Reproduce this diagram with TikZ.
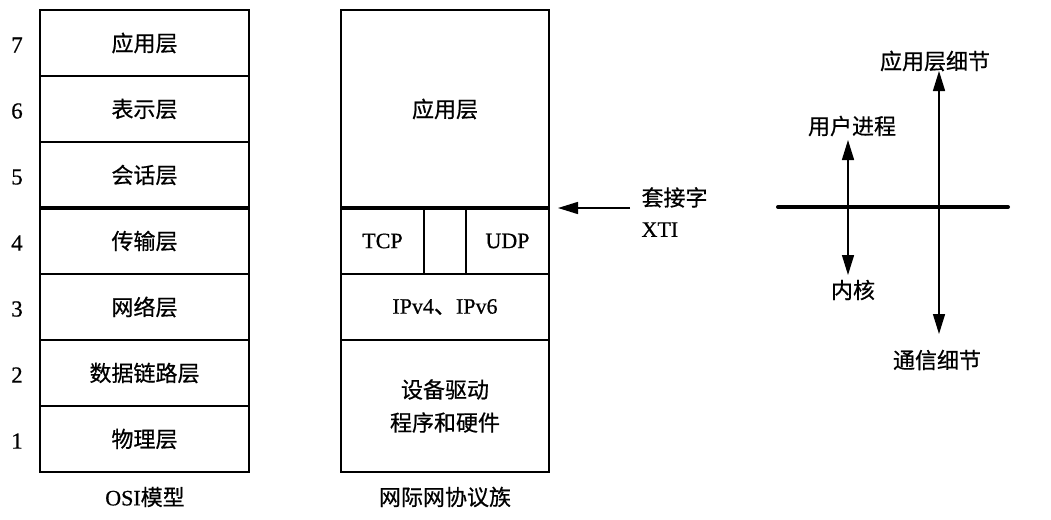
\documentclass[tikz,border=0pt]{standalone}
\usepackage{fontspec}
\setmainfont{Liberation Serif}[UprightFeatures={FakeBold=0.6}]
\newfontfamily\cjk{Noto Sans CJK SC}[UprightFeatures={FakeBold=0.6}]
\usetikzlibrary{arrows.meta}
\begin{document}
\begin{tikzpicture}[x=1pt,y=-1pt,
  cell/.style={draw, line width=1.2pt, inner sep=0pt, outer sep=0pt, align=center,
     font=\fontsize{22}{26}\selectfont\cjk},
  lat/.style={font=\fontsize{22}{26}\selectfont},
  num/.style={font=\fontsize{23}{26}\selectfont},
  lbl/.style={font=\fontsize{22}{26}\selectfont\cjk},
  thick line/.style={line width=4pt},
  tip/.tip={Triangle[length=20pt,width=12pt]},
  arr/.style={line width=1.5pt, -tip},
  darr/.style={line width=1.5pt, tip-tip}
]
\useasboundingbox (0,0) rectangle (1051,519);
% OSI model
\foreach \i/\t/\y in {7/应用层/43, 6/表示层/109, 5/会话层/175, 4/传输层/241, 3/网络层/307, 2/数据链路层/373, 1/物理层/439}{
  \node[cell, minimum width=209pt, minimum height=66pt] (osi\i) at (144.5,\y) {\t};
  \node[num] (n\i) at (17,\y+2) {\i};
}
\node[lbl] (osilbl) at (145,497) {{\rmfamily OSI}模型};
% Internet protocol suite
\node[cell, minimum width=208pt, minimum height=198pt] (app) at (445,109) {应用层};
\node[cell, lat, minimum width=83pt, minimum height=66pt] (tcp) at (382.5,241) {TCP};
\node[cell, minimum width=42pt, minimum height=66pt] (gap) at (445,241) {};
\node[cell, lat, minimum width=83pt, minimum height=66pt] (udp) at (507.5,241) {UDP};
\node[cell, lat, minimum width=208pt, minimum height=66pt] (ip) at (445,307) {IPv4{\cjk 、}IPv6};
\node[cell, minimum width=208pt, minimum height=132pt, font=\fontsize{22}{33}\selectfont\cjk] (dev) at (445,406) {设备驱动\\程序和硬件};
\node[lbl] (inetlbl) at (445,497) {网际网协议族};
% thick boundaries
\draw[thick line] (osi5.south west) -- (osi5.south east);
\draw[thick line] (app.south west) -- (app.south east);
% socket arrow
\node[lbl, anchor=west, align=left, font=\fontsize{22}{31}\selectfont\cjk] (sock) at (638,212) {套接字\\{\rmfamily XTI}};
\coordinate (a1) at (630,208);
\coordinate (a2) at (558,208);
\draw[arr] (a1) -- (a2);
% right diagram
\coordinate (h1) at (778,207);
\coordinate (h2) at (1008,207);
\draw[thick line, line cap=round] (h1) -- (h2);
\node[lbl] (appd) at (935,61) {应用层细节};
\node[lbl] (user) at (852,126) {用户进程};
\node[lbl] (kern) at (853,290) {内核};
\node[lbl] (comm) at (937,360) {通信细节};
\coordinate (u1) at (848,140);
\coordinate (u2) at (848,275);
\coordinate (c1) at (939,71);
\coordinate (c2) at (939,334);
\draw[darr] (u2) -- (u1);
\draw[darr] (c2) -- (c1);
\end{tikzpicture}
\end{document}
